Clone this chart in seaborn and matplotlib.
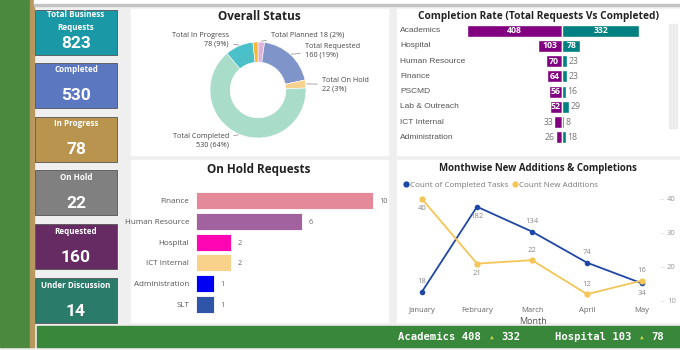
import numpy as np
import pandas as pd
import matplotlib.pyplot as plt
import seaborn as sns
from matplotlib.patches import Rectangle
from matplotlib.lines import Line2D

# KPI cards
card_titles = ["Total Business\nRequests", "Completed", "In Progress", "On Hold", "Requested", "Under Discussion"]
card_values = [823, 530, 78, 22, 160, 14]
card_colors = ["#1a98a6", "#5a77c0", "#b8944e", "#808080", "#652b62", "#2b7b6b"]

# Overall status donut
status_labels = ["Total Planned", "Total Requested", "Total On Hold", "Total Completed", "Total In Progress", "Under Discussion"]
status_values = [18, 160, 22, 530, 78, 14]
status_colors = ["#dfb3d8", "#7f95c9", "#f6d290", "#a9dcc9", "#4cc0c9", "#f5b83d"]

# Completion rate
depts = ["Academics", "Hospital", "Human Resource", "Finance", "PSCMD", "Lab & Outreach", "ICT Internal", "Administration"]
total_requests = [408, 103, 70, 64, 56, 52, 33, 26]
completed = [332, 78, 23, 23, 16, 29, 8, 18]

# On hold
hold_depts = ["Finance", "Human Resource", "Hospital", "ICT Internal", "Administration", "SLT"]
hold_counts = [10, 6, 2, 2, 1, 1]
hold_colors = ["#e3899a", "#a2619f", "#ff05b4", "#f8d18a", "#0000f5", "#2f55a8"]

# Monthwise
months = ["January", "February", "March", "April", "May"]
completed_tasks = [18, 182, 134, 74, 34]
new_additions = [40, 21, 22, 12, 16]

sns.set_theme(style="white")
plt.rcParams["font.family"] = ["Open Sans", "DejaVu Sans"]

W, H = 680, 350
fig = plt.figure(figsize=(W / 100, H / 100), dpi=100)
fig.patch.set_facecolor("#efefef")


def px_axes(x, y, w, h):
    a = fig.add_axes([x / W, 1 - (y + h) / H, w / W, h / H])
    a.set_facecolor("none")
    return a


# background layer in pixel coords
bg = fig.add_axes([0, 0, 1, 1])
bg.set_xlim(0, W)
bg.set_ylim(H, 0)
bg.axis("off")
bg.add_patch(Rectangle((0, 0), 30, 347, color="#4a893e"))
bg.add_patch(Rectangle((30, 0), 4, 347, color="#b8985e"))
bg.add_patch(Rectangle((34, 0), 646, 4, color="white"))
bg.add_patch(Rectangle((34, 4), 646, 2, color="#c4c4c4"))
for (x, y, w, h) in [(131, 9, 257, 146), (397, 9, 283, 146), (131, 160, 257, 162), (397, 160, 283, 162)]:
    bg.add_patch(Rectangle((x, y), w, h, color="white"))
bg.add_patch(Rectangle((669, 24, ), 8, 104, color="#ececec"))

# KPI cards
card_tops = [10, 63, 117, 170, 224, 278]
for top, t, v, c in zip(card_tops, card_titles, card_values, card_colors):
    bg.add_patch(Rectangle((35, top), 82, 45, facecolor=c, edgecolor="#555555", lw=0.6))
    ty = top + 11 if "\n" in t else top + 7
    bg.text(76, ty, t, ha="center", va="center", color="white", fontsize=5.8,
            fontweight="bold", linespacing=1.5)
    bg.text(76, top + 33, str(v), ha="center", va="center", color="white",
            fontsize=12.5, fontweight="bold", family="Roboto")

# bottom banner
bg.add_patch(Rectangle((37, 326), 643, 21, color="#38873a"))
cw = 6.45
x0 = 398
for i in range(2):
    left = f"{depts[i]} {total_requests[i]} "
    bg.text(x0, 337, left, ha="left", va="center", color="white", fontsize=7.6,
            fontweight="bold", family="DejaVu Sans Mono")
    xt = x0 + len(left) * cw
    bg.text(xt + cw / 2, 337.5, "\u25b2", ha="center", va="center", color="#c4d84a",
            fontsize=4.5, family="DejaVu Sans Mono")
    bg.text(xt + cw * 2, 337, str(completed[i]), ha="left", va="center", color="white",
            fontsize=7.6, fontweight="bold", family="DejaVu Sans Mono")
    x0 = 555

# ---------------- Overall Status donut
bg.text(259, 17, "Overall Status", ha="center", va="center", fontsize=8.5, fontweight="bold", color="#222222")
axd = px_axes(198, 30, 120, 120)
wedges, _ = axd.pie(status_values, colors=status_colors, startangle=90, counterclock=False,
                    wedgeprops=dict(width=0.42, edgecolor="white", linewidth=0.4))
axd.set_xlim(-1.25, 1.25)
axd.set_ylim(-1.25, 1.25)
axd.set_aspect("equal")
total = card_values[0]
label_pos = [(271, 35, "left"), (305, 51, "left"), (322, 85, "left"), (229, 141, "right"), (229, 40, "right")]
for i, (tx, ty, ha) in enumerate(label_pos):
    w = wedges[i]
    ang = np.deg2rad((w.theta1 + w.theta2) / 2)
    pct = round(status_values[i] / total * 100)
    sep = " " if i == 0 else "\n"
    txt = f"{status_labels[i]}{sep}{status_values[i]} ({pct}%)"
    axd.annotate(txt, xy=(np.cos(ang) * 1.02, np.sin(ang) * 1.02), xytext=(tx, H - ty),
                 textcoords="figure pixels", ha=ha, va="center", fontsize=5.2, color="#444444",
                 annotation_clip=False, linespacing=1.3,
                 arrowprops=dict(arrowstyle="-", color="#9a9a9a", lw=0.6, shrinkA=1, shrinkB=0))

# ---------------- Completion rate
bg.text(538, 16, "Completion Rate (Total Requests Vs Completed)", ha="center", va="center",
        fontsize=7.3, fontweight="bold", color="#222222")
axc = px_axes(460, 23, 200, 122)
df_c = pd.DataFrame({"dept": depts, "req": total_requests, "done": completed})
df_c["neg"] = -df_c["req"]
sns.barplot(data=df_c, x="neg", y="dept", color="#800080", saturation=1, width=0.8, ax=axc, orient="h")
sns.barplot(data=df_c, x="done", y="dept", color="#008080", saturation=1, width=0.8, ax=axc, orient="h")
axc.set_xlim(-438, 420)
axc.set_ylim(len(depts) - 0.5, -0.5)
axc.axis("off")
tr = axc.get_yaxis_transform()
for i, (d, r, c) in enumerate(zip(depts, total_requests, completed)):
    axc.text(-0.3, i, d, transform=tr, ha="left", va="center", fontsize=6, color="#555555",
             family="Liberation Sans")
    if r >= 50:
        axc.text(-r / 2, i, str(r), ha="center", va="center", fontsize=6.3, fontweight="bold", color="white")
    else:
        axc.text(-r - 6, i, str(r), ha="right", va="center", fontsize=6.3, color="#777777")
    if c >= 50:
        axc.text(c / 2, i, str(c), ha="center", va="center", fontsize=6.3, fontweight="bold", color="white")
    else:
        axc.text(c + 6, i, str(c), ha="left", va="center", fontsize=6.3, color="#777777")

# ---------------- On hold requests
bg.text(259, 170, "On Hold Requests", ha="center", va="center", fontsize=8.5, fontweight="bold", color="#222222")
axh = px_axes(196, 190, 184, 125)
sns.barplot(x=hold_counts, y=hold_depts, hue=hold_depts, palette=hold_colors, legend=False,
            saturation=1, width=0.82, ax=axh, orient="h", edgecolor="white", linewidth=0.6)
axh.set_xlim(0, 10.4)
sns.despine(ax=axh, left=True, bottom=True)
axh.set_xticks([])
axh.set_xlabel("")
axh.set_ylabel("")
axh.tick_params(axis="y", length=0, pad=5, labelsize=5.8, labelcolor="#555555")
for i, v in enumerate(hold_counts):
    axh.text(v + 0.35, i + 0.05, str(v), ha="left", va="center", fontsize=5.3, color="#666666")

# ---------------- Monthwise lines
bg.text(538, 168, "Monthwise New Additions & Completions", ha="center", va="center",
        fontsize=6.9, fontweight="bold", color="#222222")
blue, yellow = "#1f47a5", "#f4c557"
axl = px_axes(405, 193, 255, 110)
axr = axl.twinx()
axr.set_facecolor("none")
xm = np.arange(len(months))
sns.lineplot(x=xm, y=completed_tasks, ax=axl, color=blue, marker="o", markersize=4,
             markeredgewidth=0, linewidth=1.3)
sns.lineplot(x=xm, y=new_additions, ax=axr, color=yellow, marker="o", markersize=4.5,
             markeredgewidth=0, linewidth=1.3)
axl.set_xlim(-0.309, 4.327)
axl.set_ylim(-3.86, 208.5)
axr.set_ylim(9.41, 41.76)
for a in (axl, axr):
    for s in a.spines.values():
        s.set_visible(False)
axl.set_yticks([])
axl.set_xticks(xm)
axl.set_xticklabels(months)
axl.tick_params(axis="x", length=0, pad=3, labelsize=5.5, labelcolor="#666666")
axl.set_xlabel("Month", fontsize=6.5, color="#555555", labelpad=2)
axr.set_yticks([10, 20, 30, 40])
axr.tick_params(axis="y", length=3, width=0.5, color="#dddddd", pad=2, labelsize=5.5, labelcolor="#999999")
axr.set_ylabel("")
blue_pos = [1, -1, 1, 1, -1]
yel_pos = [-1, -1, 1, 1, 1]
for i in xm:
    axl.annotate(str(completed_tasks[i]), (i, completed_tasks[i]), xytext=(0, 7 * blue_pos[i]),
                 textcoords="offset points", ha="center", va="center", fontsize=5.5, color="#888888")
    axr.annotate(str(new_additions[i]), (i, new_additions[i]), xytext=(0, 7 * yel_pos[i]),
                 textcoords="offset points", ha="center", va="center", fontsize=5.5, color="#888888")
handles = [Line2D([], [], marker="o", linestyle="", markerfacecolor=blue, markeredgewidth=0, markersize=4.5),
           Line2D([], [], marker="o", linestyle="", markerfacecolor=yellow, markeredgewidth=0, markersize=4.5)]
axr.legend(handles, ["Count of Completed Tasks", "Count New Additions"], loc="center left",
           bbox_to_anchor=(398 / W, 1 - 185 / H), bbox_transform=fig.transFigure, ncol=2,
           frameon=False, fontsize=5.8, labelcolor="#777777", handletextpad=0.05,
           columnspacing=0.4, borderpad=0, handlelength=0.9)

fig.savefig("out.png", dpi=100)
